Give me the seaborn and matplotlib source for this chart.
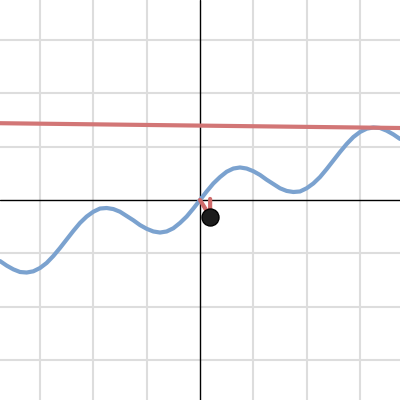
import numpy as np
import seaborn as sns
from matplotlib import pyplot as plt

# curve samples (positive half; curve is odd)
half_x = [0.125, 0.25, 0.375, 0.5, 0.625, 0.75, 0.875, 1.0, 1.125, 1.25, 1.375, 1.5, 1.625, 1.75, 1.875,
          2.0, 2.125, 2.25, 2.375, 2.5, 2.625, 2.75, 2.875, 3.0, 3.125, 3.25, 3.375, 3.5, 3.625, 3.75]
half_y = [0.16, 0.31, 0.43, 0.53, 0.59, 0.61, 0.59, 0.54, 0.47, 0.38, 0.30, 0.22, 0.17, 0.15, 0.16,
          0.22, 0.31, 0.43, 0.58, 0.74, 0.90, 1.05, 1.18, 1.275, 1.337, 1.36, 1.35, 1.30, 1.23, 1.145]
curve_x = [-v for v in half_x[::-1]] + [0.0] + half_x
curve_y = [-v for v in half_y[::-1]] + [0.0] + half_y
line_x = [-3.75, 3.75]
line_y = [1.44, 1.35]
seg_x = [0.0, 0.19, 0.19]
seg_y = [0.0, -0.31, 0.02]
pt_x = [0.19]
pt_y = [-0.31]

sns.set_style('white')
fig, ax = plt.subplots(figsize=(4, 4), dpi=100)
fig.subplots_adjust(0, 0, 1, 1)

for g in range(-3, 4):
    if g != 0:
        ax.axvline(g, color='#dddddd', lw=1.5, zorder=0)
        ax.axhline(g, color='#dddddd', lw=1.5, zorder=0)
ax.axvline(0, color='black', lw=1, zorder=1)
ax.axhline(0, color='black', lw=1, zorder=1)

sns.lineplot(x=curve_x, y=curve_y, ax=ax, color='#7ba2cf', lw=3, sort=False, estimator=None, zorder=3)
sns.lineplot(x=line_x, y=line_y, ax=ax, color='#d27676', lw=3, zorder=3)
sns.lineplot(x=seg_x, y=seg_y, ax=ax, color='#cf6b6b', lw=3, sort=False, estimator=None, zorder=4)
sns.scatterplot(x=pt_x, y=pt_y, ax=ax, color='#1c1c1c', s=150, edgecolor='black', zorder=5)

ax.set_xlim(-3.75, 3.75)
ax.set_ylim(-3.75, 3.75)
ax.set_xticks([])
ax.set_yticks([])
for s in ax.spines.values():
    s.set_visible(False)
fig.savefig('out.png')
